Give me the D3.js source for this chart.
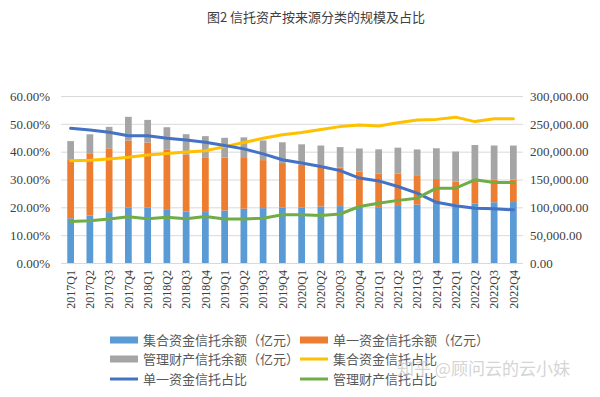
<!DOCTYPE html>
<html>
<head>
<meta charset="utf-8">
<script src="https://cdn.jsdelivr.net/npm/d3@7"></script>
<style>
  body { margin: 0; background: #fff; }
  svg { display: block; }
  .axis text { font-family: "Liberation Serif", "DejaVu Serif", serif; fill: #404040; }
  .grid line { stroke: #d9d9d9; }
  .grid .domain { display: none; }
</style>
</head>
<body>
<div id="chart"></div>
<script>
const categories = ["2017Q1","2017Q2","2017Q3","2017Q4","2018Q1","2018Q2","2018Q3","2018Q4",
  "2019Q1","2019Q2","2019Q3","2019Q4","2020Q1","2020Q2","2020Q3","2020Q4",
  "2021Q1","2021Q2","2021Q3","2021Q4","2022Q1","2022Q2","2022Q3","2022Q4"];

// 余额（亿元）
const jiheAmount = [80400,85400,91300,99800,99400,95400,92300,91500,94200,97600,98600,99400,
  99900,101500,102200,101600,100300,104000,105100,106000,105100,107200,109100,109500];
const danyiAmount = [106000,110600,114700,120000,117000,108700,102300,98500,95100,92500,86200,80100,
  76500,73400,69300,62500,60100,56800,51300,44800,41300,41600,41100,40400];
const guanliAmount = [32600,35200,38600,42800,40700,39800,36800,37900,35600,35600,35400,37400,
  36800,36100,36700,41600,43800,46400,47600,55300,53900,63100,60900,61100];

// 占比（%）
const jiheShare = [36.7,36.9,37.4,38.0,38.8,39.3,39.9,40.3,41.8,43.3,44.8,46.1,
  46.9,48.0,49.0,49.6,49.2,50.4,51.4,51.6,52.4,50.8,51.8,51.8];
const danyiShare = [48.4,47.8,47.0,45.7,45.7,44.8,44.2,43.4,42.2,41.0,39.2,37.1,
  35.9,34.7,33.2,30.5,29.5,27.5,25.1,21.8,20.6,19.7,19.5,19.1];
const guanliShare = [14.9,15.2,15.8,16.6,15.9,16.4,15.9,16.7,15.8,15.8,16.1,17.3,
  17.3,17.1,17.6,20.3,21.5,22.5,23.3,26.9,26.9,29.9,28.9,28.9];

const leftTicks = [0,10,20,30,40,50,60];
const rightTicks = [0,50000,100000,150000,200000,250000,300000];

const title = "图2 信托资产按来源分类的规模及占比";
const barNames = ["集合资金信托余额（亿元）","单一资金信托余额（亿元）","管理财产信托余额（亿元）"];
const lineNames = ["集合资金信托占比","单一资金信托占比","管理财产信托占比"];

const width = 600, height = 397;
const plot = {left: 61, right: 523, top: 96, bottom: 263};
const barColors = ["#5B9BD5","#ED7D31","#A5A5A5"];
const lineColors = ["#FFC000","#4472C4","#70AD47"];

const svg = d3.select("#chart").append("svg")
  .attr("width", width)
  .attr("height", height);

svg.append("text")
  .attr("x", 316).attr("y", 22)
  .attr("text-anchor", "middle")
  .style("font-family", "'Noto Sans CJK SC', sans-serif")
  .style("font-size", "13px")
  .style("fill", "#404040")
  .text(title);

const x = d3.scaleBand()
  .domain(categories)
  .range([plot.left, plot.right])
  .paddingInner(0.65)
  .paddingOuter(0.325);

const yL = d3.scaleLinear().domain([0, 60]).range([plot.bottom, plot.top]);
const yR = d3.scaleLinear().domain([0, 300000]).range([plot.bottom, plot.top]);

// grid
svg.append("g")
  .attr("class", "grid")
  .attr("transform", "translate(" + plot.left + ",0)")
  .call(d3.axisLeft(yL).tickValues(leftTicks).tickSize(-(plot.right - plot.left)).tickFormat(""));

// left axis
const leftAxis = svg.append("g")
  .attr("class", "axis")
  .attr("transform", "translate(" + (plot.left - 8) + ",0)")
  .call(d3.axisLeft(yL).tickValues(leftTicks).tickSize(0).tickFormat(d => d.toFixed(2) + "%"));
leftAxis.select(".domain").remove();
leftAxis.selectAll("text").style("font-size", "13px");

// right axis
const rightAxis = svg.append("g")
  .attr("class", "axis")
  .attr("transform", "translate(" + (plot.right + 7) + ",0)")
  .call(d3.axisRight(yR).tickValues(rightTicks).tickSize(0).tickFormat(d3.format(",.2f")));
rightAxis.select(".domain").remove();
rightAxis.selectAll("text").style("font-size", "13px").attr("x", 0);

// stacked bars
const rows = categories.map((c, i) => ({cat: c, a: jiheAmount[i], b: danyiAmount[i], c: guanliAmount[i]}));
const stack = d3.stack().keys(["a","b","c"])(rows);

svg.append("g").selectAll("g")
  .data(stack)
  .enter().append("g")
    .attr("fill", (d, i) => barColors[i])
  .selectAll("rect")
  .data(d => d)
  .enter().append("rect")
    .attr("x", d => x(d.data.cat))
    .attr("y", d => yR(d[1]))
    .attr("width", x.bandwidth())
    .attr("height", d => yR(d[0]) - yR(d[1]));

// x axis labels
const xAxis = svg.append("g")
  .attr("class", "axis")
  .attr("transform", "translate(0," + plot.bottom + ")")
  .call(d3.axisBottom(x).tickSize(0));
xAxis.select(".domain").remove();
xAxis.selectAll("text")
  .style("font-size", "12px")
  .attr("text-anchor", "end")
  .attr("transform", "rotate(-90)")
  .attr("x", -7)
  .attr("y", 0)
  .attr("dy", "0.35em");

// lines
const shares = [jiheShare, danyiShare, guanliShare];
const line = d3.line()
  .x((d, i) => x(categories[i]) + x.bandwidth() / 2)
  .y(d => yL(d));

shares.forEach((s, k) => {
  svg.append("path")
    .datum(s)
    .attr("fill", "none")
    .attr("stroke", lineColors[k])
    .attr("stroke-width", 3)
    .attr("stroke-linejoin", "round")
    .attr("stroke-linecap", "round")
    .attr("d", line);
});

// legend
const legendItems = [
  {name: barNames[0], color: barColors[0], type: "bar"},
  {name: barNames[1], color: barColors[1], type: "bar"},
  {name: barNames[2], color: barColors[2], type: "bar"},
  {name: lineNames[0], color: lineColors[0], type: "line"},
  {name: lineNames[1], color: lineColors[1], type: "line"},
  {name: lineNames[2], color: lineColors[2], type: "line"}
];
const colX = [110, 300], rowY = [340, 359, 379];

const legend = svg.append("g").selectAll("g")
  .data(legendItems)
  .enter().append("g")
    .attr("transform", (d, i) => "translate(" + colX[i % 2] + "," + rowY[Math.floor(i / 2)] + ")");

legend.append("rect")
  .attr("x", 0)
  .attr("y", d => d.type === "bar" ? -3.5 : -1.5)
  .attr("width", 28)
  .attr("height", d => d.type === "bar" ? 7 : 3)
  .attr("fill", d => d.color);

legend.append("text")
  .attr("x", 33)
  .attr("dy", "0.35em")
  .style("font-family", "'Noto Sans CJK SC', sans-serif")
  .style("font-size", "13px")
  .style("fill", "#595959")
  .text(d => d.name);

// watermark
svg.append("text")
  .attr("x", 397).attr("y", 375)
  .style("font-family", "'Noto Sans CJK SC', sans-serif")
  .style("font-size", "17px")
  .style("fill", "#c8c8c8")
  .style("opacity", 0.75)
  .text("知乎 @顾问云的云小妹");
</script>
</body>
</html>
